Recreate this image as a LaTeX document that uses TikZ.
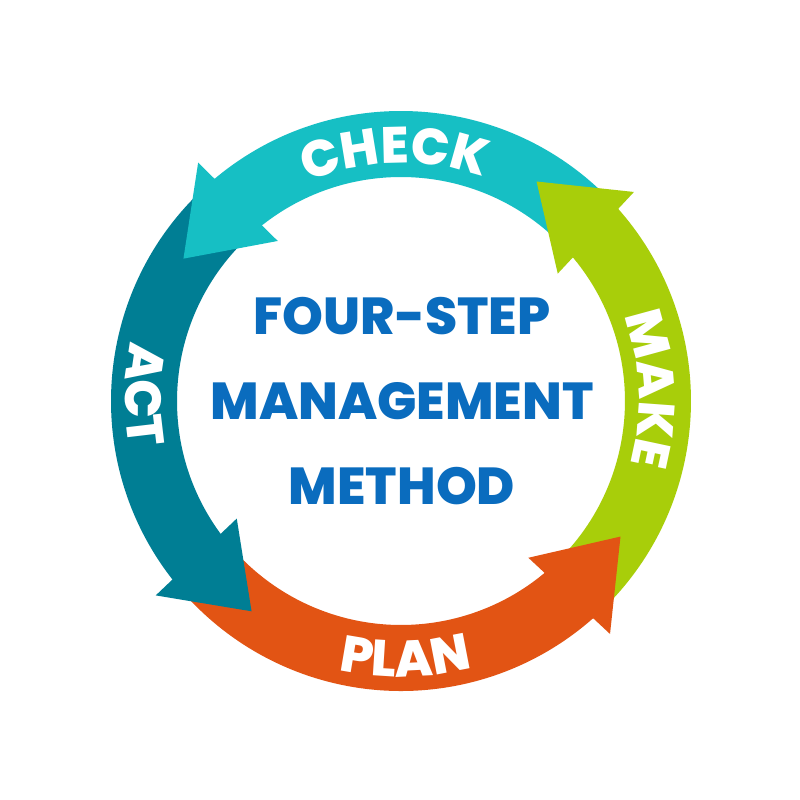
\documentclass[tikz,border=0pt]{standalone}
\usepackage{fontspec}
\setmainfont{Poppins}[BoldFont={Poppins ExtraBold}]
\usetikzlibrary{positioning, decorations.text}

\definecolor{actcol}{RGB}{0,126,148}
\definecolor{checkcol}{RGB}{22,191,196}
\definecolor{makecol}{RGB}{168,206,10}
\definecolor{plancol}{RGB}{226,84,20}
\definecolor{titlecol}{RGB}{10,108,190}

\newcommand{\labelfont}{\fontsize{51}{53}\selectfont\bfseries\color{white}}

\begin{document}
\begin{tikzpicture}[
    x=1pt, y=1pt,
    title/.style={inner sep=0pt, text=titlecol, font=\fontsize{52}{60}\selectfont\bfseries},
    arctext/.style={decorate, decoration={text along path, text align=center, text={|\labelfont|#1}}}
]

% 背景
\fill[white] (-401,-399) rectangle (399,401);
\useasboundingbox (-401,-399) rectangle (399,401);

% 圆环箭身
\fill[plancol] (220:290) arc[start angle=220, end angle=312.5, radius=290] -- (312.5:224) arc[start angle=312.5, end angle=220, radius=224] -- cycle;
\fill[makecol] (-46.5:290) arc[start angle=-46.5, end angle=42.5, radius=290] -- (42.5:224) arc[start angle=42.5, end angle=-46.5, radius=224] -- cycle;
\fill[checkcol] (43.5:290) arc[start angle=43.5, end angle=131, radius=290] -- (131:224) arc[start angle=131, end angle=43.5, radius=224] -- cycle;
\fill[actcol] (132:290) arc[start angle=132, end angle=219, radius=290] -- (219:224) arc[start angle=219, end angle=132, radius=224] -- cycle;

% 箭头
\fill[plancol] (311.9:313) -- (328.3:258) -- (309.1:202) -- cycle;
\fill[makecol] (41.9:313) -- (58.3:258) -- (39.1:202) -- cycle;
\fill[checkcol] (130.4:313) -- (146.8:260) -- (127.6:202) -- cycle;
\fill[actcol] (218.4:313) -- (234.6:258) -- (215.6:202) -- cycle;

% 环上文字
\path[arctext={CHECK}] (126.5:238) arc[start angle=126.5, end angle=56.5, radius=238];
\path[arctext={MAKE}] (37.8:238) arc[start angle=37.8, end angle=-32.2, radius=238];
\path[arctext={ACT}] (143.7:276) arc[start angle=143.7, end angle=213.7, radius=276];
\path[arctext={PLAN}] (236:276) arc[start angle=236, end angle=306, radius=276];

% 中心标题
\node[title] (mgmt) at (1,0) {MANAGEMENT};
\node[title, above=47pt of mgmt] (four) {FOUR-STEP};
\node[title, below=47pt of mgmt] (method) {METHOD};

\end{tikzpicture}
\end{document}
